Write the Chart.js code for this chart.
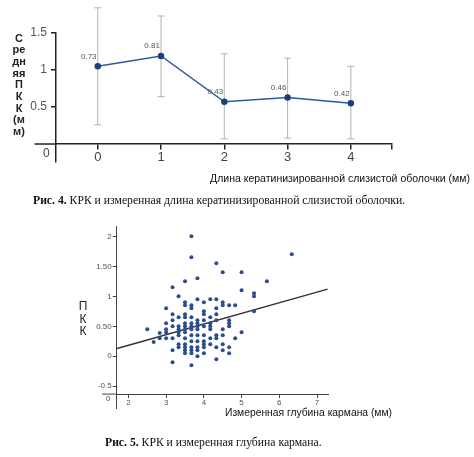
<!doctype html>
<html>
<head>
  <meta charset="utf-8">
  <script src="https://cdn.jsdelivr.net/npm/chart.js@4.4.1/dist/chart.umd.min.js"></script>
  <style>
    body { margin: 0; background: #fff; }
    .page { position: relative; width: 474px; height: 457px; overflow: hidden; font-family: "Liberation Sans", Arial, sans-serif; color: #222; }
    canvas { position: absolute; left: 0; }
    .txt { position: absolute; white-space: nowrap; }
    .stack { position: absolute; text-align: center; }
    .cap { position: absolute; white-space: nowrap; font-family: "Liberation Serif", "Times New Roman", serif; font-size: 11.7px; color: #111; }
  </style>
</head>
<body>
  <div class="page">
    <canvas id="chartLen" width="474" height="175" style="top:0"></canvas>
    <canvas id="chartDepth" width="474" height="200" style="top:215px"></canvas>

    <div class="stack" style="left:6px; top:32.5px; width:26px; font-size:11px; line-height:11.7px; font-weight:bold; color:#222;">С<br>ре<br>дн<br>яя<br>П<br>К<br>К<br>(м<br>м)</div>
    <div class="txt" style="left:43px; top:146px; font-size:12px; line-height:14px; color:#444;">0</div>
    <div class="txt" style="right:4px; top:171px; font-size:10.5px; line-height:14px; color:#111;">Длина кератинизированной слизистой оболочки (мм)</div>
    <div class="cap" style="left:33px; top:194px; line-height:14px;"><b>Рис. 4.</b> КРК и измеренная длина кератинизированной слизистой оболочки.</div>

    <div class="stack" style="left:73px; top:300px; width:20px; font-size:12px; line-height:12.7px; color:#222;">П<br>К<br>К</div>
    <div class="txt" style="left:106px; top:394px; font-size:8px; line-height:10px; color:#555;">0</div>
    <div class="txt" style="left:225px; top:406px; font-size:10.3px; line-height:14px; color:#111;">Измеренная глубина кармана (мм)</div>
    <div class="cap" style="left:105px; top:436px; line-height:14px;"><b>Рис. 5.</b> КРК и измеренная глубина кармана.</div>
  </div>
  <script>
    // Рис. 4 — длина кератинизированной слизистой
    const lenX = [0, 1, 2, 3, 4];
    const lenMean = [1.05, 1.19, 0.57, 0.63, 0.55];
    const lenHigh = [1.84, 1.73, 1.22, 1.16, 1.05];
    const lenLow = [0.26, 0.64, 0.07, 0.08, 0.07];
    const lenLabels = ['0.73', '0.81', '0.43', '0.46', '0.42'];
    const lenTicksX = [0, 1, 2, 3, 4];
    const lenTicksY = [0.5, 1, 1.5];

    // Рис. 5 — глубина кармана (точки сгруппированы по глубине)
    const depthGroups = [2.5, 2.67, 2.83, 3, 3.17, 3.33, 3.5, 3.67, 3.83, 4, 4.17, 4.33, 4.5, 4.67, 4.83, 5, 5.33, 5.67, 6.33];
    const pkkGroups = [
      [0.45],
      [0.24],
      [0.39, 0.3],
      [0.8, 0.55, 0.45, 0.4, 0.3],
      [1.15, 0.7, 0.6, 0.5, 0.3, 0.1, -0.1],
      [1.0, 0.65, 0.5, 0.45, 0.4, 0.35, 0.2, 0.15],
      [1.25, 0.9, 0.85, 0.7, 0.65, 0.55, 0.5, 0.45, 0.4, 0.3, 0.2, 0.15, 0.1, 0.05],
      [2.0, 1.65, 0.85, 0.8, 0.65, 0.55, 0.5, 0.45, 0.35, 0.25, 0.15, 0.1, 0.05, -0.15],
      [1.3, 0.95, 0.6, 0.55, 0.5, 0.45, 0.35, 0.25, 0.15, 0.1, 0.0],
      [0.9, 0.75, 0.7, 0.6, 0.5, 0.35, 0.25, 0.2, 0.15, 0.05],
      [0.95, 0.65, 0.55, 0.5, 0.45, 0.3, 0.2],
      [1.55, 0.95, 0.8, 0.7, 0.6, 0.35, 0.3, 0.15, -0.05],
      [1.4, 0.9, 0.85, 0.45, 0.35, 0.2, 0.1],
      [0.85, 0.6, 0.55, 0.5, 0.15, 0.05],
      [0.85, 0.3],
      [1.4, 1.1, 0.4],
      [1.05, 1.0, 0.75],
      [1.25],
      [1.7]
    ];
    const trendX = [1.7, 7.28];
    const trendY = [0.13, 1.12];
    const depthTicksX = [2, 3, 4, 5, 6, 7];
    const depthTicksY = [-0.5, 0, 0.5, 1, 1.5, 2];
    const depthTickText = ['-0.5', '0', '0.50', '1', '1.50', '2'];

    Chart.defaults.font.family = '"Liberation Sans", Arial, sans-serif';
    Chart.defaults.animation = false;

    // ось X продолжается левее оси Y, как на рисунке
    const axisTail = {
      id: 'axisTail',
      afterDraw(chart, args, opts) {
        const { ctx, chartArea, scales: { x, y } } = chart;
        const py = y.getPixelForValue(opts.atY);
        ctx.save();
        ctx.strokeStyle = opts.color;
        ctx.lineWidth = opts.width;
        ctx.beginPath();
        ctx.moveTo(x.getPixelForValue(opts.fromX), py);
        ctx.lineTo(chartArea.left, py);
        ctx.stroke();
        ctx.restore();
      }
    };

    const errorBars = {
      id: 'errorBars',
      beforeDatasetsDraw(chart) {
        const { ctx, scales: { x, y } } = chart;
        ctx.save();
        ctx.strokeStyle = '#b3b3b3';
        ctx.lineWidth = 1;
        lenX.forEach((v, i) => {
          const px = x.getPixelForValue(v);
          const top = y.getPixelForValue(lenHigh[i]);
          const bot = y.getPixelForValue(lenLow[i]);
          ctx.beginPath();
          ctx.moveTo(px, top); ctx.lineTo(px, bot);
          ctx.moveTo(px - 3.5, top); ctx.lineTo(px + 3.5, top);
          ctx.moveTo(px - 3.5, bot); ctx.lineTo(px + 3.5, bot);
          ctx.stroke();
        });
        ctx.restore();
      },
      afterDatasetsDraw(chart) {
        const { ctx, scales: { x, y } } = chart;
        ctx.save();
        ctx.fillStyle = '#555';
        ctx.font = '8px "Liberation Sans", Arial, sans-serif';
        ctx.textAlign = 'center';
        ctx.textBaseline = 'middle';
        lenX.forEach((v, i) => {
          ctx.fillText(lenLabels[i], x.getPixelForValue(v) - 9, y.getPixelForValue(lenMean[i]) - 10);
        });
        ctx.restore();
      }
    };

    new Chart(document.getElementById('chartLen'), {
      type: 'line',
      data: {
        datasets: [{
          data: lenX.map((v, i) => ({ x: v, y: lenMean[i] })),
          borderColor: '#2a5a9e',
          borderWidth: 1.5,
          pointRadius: 2.5,
          pointBackgroundColor: '#1d3f7d',
          pointBorderColor: '#1d3f7d',
          clip: false
        }]
      },
      options: {
        responsive: false,
        layout: { padding: { left: 16, right: 82, top: 33, bottom: 13 } },
        plugins: {
          legend: { display: false }, tooltip: { enabled: false },
          axisTail: { fromX: -1, atY: 0, color: '#222', width: 1.5 }
        },
        scales: {
          x: {
            type: 'linear', min: -0.66, max: 4.65,
            position: { y: 0 },
            afterBuildTicks: (axis) => { axis.ticks = lenTicksX.concat([4.65]).map(v => ({ value: v })); },
            ticks: { callback: (v) => lenTicksX.includes(v) ? String(v) : '', color: '#444', font: { size: 13 }, padding: 1, maxRotation: 0, autoSkip: false },
            grid: { display: true, drawOnChartArea: false, drawTicks: true, tickLength: 5, color: '#222', lineWidth: 1.5 },
            border: { display: true, color: '#222', width: 1.5 }
          },
          y: {
            type: 'linear', min: -0.243, max: 1.5,
            position: 'left',
            afterFit: (axis) => { axis.width = 40; },
            afterBuildTicks: (axis) => { axis.ticks = lenTicksY.map(v => ({ value: v })); },
            ticks: { callback: (v) => String(v), color: '#555', font: { size: 12 }, padding: 4, autoSkip: false },
            grid: { display: true, drawOnChartArea: false, drawTicks: true, tickLength: 5, color: '#222', lineWidth: 1.5 },
            border: { display: true, color: '#222', width: 1.5 }
          }
        }
      },
      plugins: [errorBars, axisTail]
    });

    const depthPoints = [];
    depthGroups.forEach((d, i) => pkkGroups[i].forEach(v => depthPoints.push({ x: d, y: v })));

    new Chart(document.getElementById('chartDepth'), {
      type: 'scatter',
      data: {
        datasets: [{
          data: depthPoints,
          pointRadius: 2,
          pointBackgroundColor: '#2c4d8e',
          pointBorderColor: '#2c4d8e',
          pointBorderWidth: 0
        }, {
          type: 'line',
          data: trendX.map((v, i) => ({ x: v, y: trendY[i] })),
          borderColor: '#333',
          borderWidth: 1.4,
          pointRadius: 0
        }]
      },
      options: {
        responsive: false,
        layout: { padding: { left: 86.7, right: 146, top: 11, bottom: 7 } },
        plugins: {
          legend: { display: false }, tooltip: { enabled: false },
          axisTail: { fromX: 1.303, atY: -0.63, color: '#444', width: 1 }
        },
        scales: {
          x: {
            type: 'linear', min: 1.69, max: 7.29,
            position: { y: -0.63 },
            afterBuildTicks: (axis) => { axis.ticks = depthTicksX.map(v => ({ value: v })); },
            ticks: { color: '#555', font: { size: 8 }, padding: 1, maxRotation: 0, autoSkip: false },
            grid: { display: true, drawOnChartArea: false, drawTicks: true, tickLength: 3, color: '#444' },
            border: { display: true, color: '#444', width: 1 }
          },
          y: {
            type: 'linear', min: -0.862, max: 2.172,
            position: 'left',
            afterFit: (axis) => { axis.width = 30; },
            afterBuildTicks: (axis) => { axis.ticks = depthTicksY.map(v => ({ value: v })); },
            ticks: { callback: (v) => depthTickText[depthTicksY.indexOf(v)], color: '#555', font: { size: 8 }, padding: 1, autoSkip: false },
            grid: { display: true, drawOnChartArea: false, drawTicks: true, tickLength: 4, color: '#444' },
            border: { display: true, color: '#444', width: 1 }
          }
        }
      },
      plugins: [axisTail]
    });
  </script>
</body>
</html>
